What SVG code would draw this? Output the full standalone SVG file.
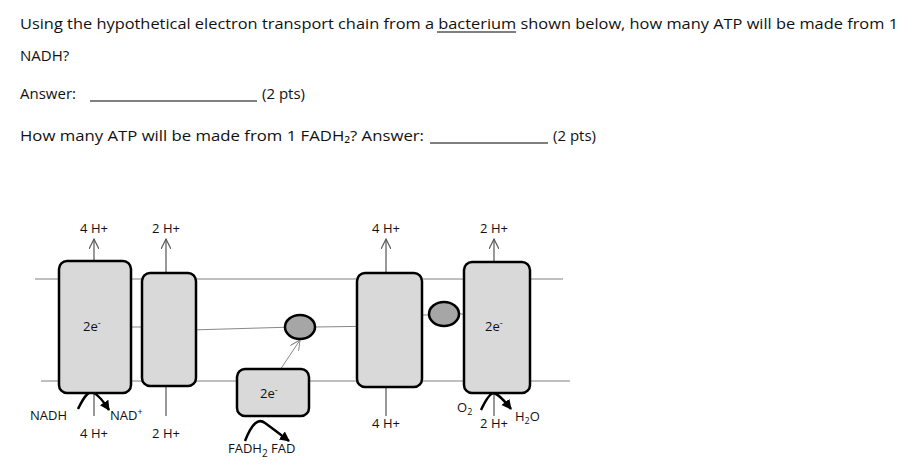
<svg xmlns="http://www.w3.org/2000/svg" width="916" height="472" viewBox="0 0 916 472">
<defs>
<style>
text{font-family:"Open Sans","Liberation Sans",sans-serif;fill:#111}
.h{font-size:15px}
.l{font-size:13px}
.box{fill:#d9d9d9;stroke:#000;stroke-width:2.5}
.ov{fill:#a6a6a6;stroke:#000;stroke-width:2.5}
.mem{stroke:#808080;stroke-width:1.2}
.ln{stroke:#555;stroke-width:1.2;fill:none}
.ga{stroke:#888;stroke-width:1;fill:none;marker-end:url(#ga)}
.ka{stroke:#555;stroke-width:1.2;fill:none;marker-end:url(#ka)}
.cu{stroke:#000;stroke-width:2.5;fill:none;marker-end:url(#ba)}
.bl{stroke:#000;stroke-width:1}
</style>
<marker id="ga" markerWidth="12" markerHeight="10" refX="10" refY="5" orient="auto" markerUnits="userSpaceOnUse"><path d="M0,0 L10,5 L0,10" fill="none" stroke="#888" stroke-width="1"/></marker>
<marker id="ka" markerWidth="12" markerHeight="10" refX="10" refY="5" orient="auto" markerUnits="userSpaceOnUse"><path d="M0,0 L10,5 L0,10" fill="none" stroke="#555" stroke-width="1.2"/></marker>
<marker id="ba" markerWidth="12" markerHeight="12" refX="9" refY="6" orient="auto" markerUnits="userSpaceOnUse"><path d="M0,1 L10,6 L0,11 Z" fill="#000"/></marker>
</defs>
<rect width="916" height="472" fill="#fff"/>
<g id="question">
<text class="h" x="20" y="29" textLength="878" lengthAdjust="spacingAndGlyphs">Using the hypothetical electron transport chain from a bacterium shown below, how many ATP will be made from 1</text>
<line class="bl" x1="437" y1="32" x2="516" y2="32"/>
<text class="h" x="20" y="61">NADH?</text>
<text class="h" x="20" y="99">Answer:</text>
<line class="bl" x1="90" y1="101" x2="257" y2="101"/>
<text class="h" x="262" y="99">(2 pts)</text>
<text class="h" x="20" y="141" textLength="404" lengthAdjust="spacingAndGlyphs">How many ATP will be made from 1 FADH₂?  Answer:</text>
<line class="bl" x1="430" y1="143" x2="548" y2="143"/>
<text class="h" x="553" y="141">(2 pts)</text>
</g>
<g id="membrane">
<line class="mem" x1="35" y1="279" x2="563" y2="279"/>
<line class="mem" x1="41" y1="381" x2="570" y2="381"/>
</g>
<g id="connectors">
<path class="ka" d="M94,261 V239"/>
<path class="ka" d="M166,273 V239"/>
<path class="ka" d="M386,273 V239"/>
<path class="ka" d="M494,262 V239"/>
<path class="ln" d="M94,393 V416"/>
<path class="ln" d="M166,386 V416"/>
<path class="ln" d="M386,387 V416"/>
<path class="ln" d="M494,393 V416"/>
<path class="ga" d="M102,327 H156"/>
<path class="ga" d="M190,330 L295,327"/>
<path class="ga" d="M315,327 L385,326"/>
<path class="ga" d="M272,382 L300,340"/>
<path class="ga" d="M410,315 H444"/>
<path class="ga" d="M458,313 L483,320"/>
<path class="cu" d="M78,409 Q88,388 94,393 Q100,396 109,410"/>
<path class="cu" d="M245,441 Q255,415 265,423 Q272,428 289,441"/>
<path class="cu" d="M481,410 Q489,393 494,393 Q500,395 511,409"/>
</g>
<g id="complex1"><rect class="box" x="59" y="261" width="72" height="132" rx="8"/><text class="l" x="83" y="331">2e<tspan dy="-5" font-size="9">-</tspan></text></g>
<g id="complex2"><rect class="box" x="142" y="273" width="54" height="113" rx="8"/></g>
<g id="fadbox"><rect class="box" x="237" y="369" width="72" height="47" rx="8"/><text class="l" x="260" y="398">2e<tspan dy="-5" font-size="9">-</tspan></text></g>
<g id="carrier1"><ellipse class="ov" cx="300" cy="327" rx="15" ry="12"/></g>
<g id="complex3"><rect class="box" x="357" y="273" width="65" height="114" rx="8"/></g>
<g id="carrier2"><ellipse class="ov" cx="444" cy="314" rx="15" ry="12"/></g>
<g id="complex4"><rect class="box" x="464" y="262" width="66" height="131" rx="8"/><text class="l" x="485" y="331">2e<tspan dy="-5" font-size="9">-</tspan></text></g>
<g id="labels">
<text class="l" x="94" y="233" text-anchor="middle">4 H+</text>
<text class="l" x="166" y="233" text-anchor="middle">2 H+</text>
<text class="l" x="386" y="233" text-anchor="middle">4 H+</text>
<text class="l" x="494" y="233" text-anchor="middle">2 H+</text>
<text class="l" x="94" y="438" text-anchor="middle">4 H+</text>
<text class="l" x="166" y="438" text-anchor="middle">2 H+</text>
<text class="l" x="386" y="428" text-anchor="middle">4 H+</text>
<text class="l" x="494" y="428" text-anchor="middle">2 H+</text>
<text class="l" x="30" y="420">NADH</text>
<text class="l" x="110" y="420">NAD<tspan dy="-5" font-size="9">+</tspan></text>
<text class="l" x="228" y="453">FADH<tspan dy="4" font-size="10">2</tspan><tspan dy="-4"> FAD</tspan></text>
<text class="l" x="457" y="412">O<tspan dy="3" font-size="9">2</tspan></text>
<text class="l" x="515" y="421">H<tspan dy="3" font-size="9">2</tspan><tspan dy="-3">O</tspan></text>
</g>
</svg>
